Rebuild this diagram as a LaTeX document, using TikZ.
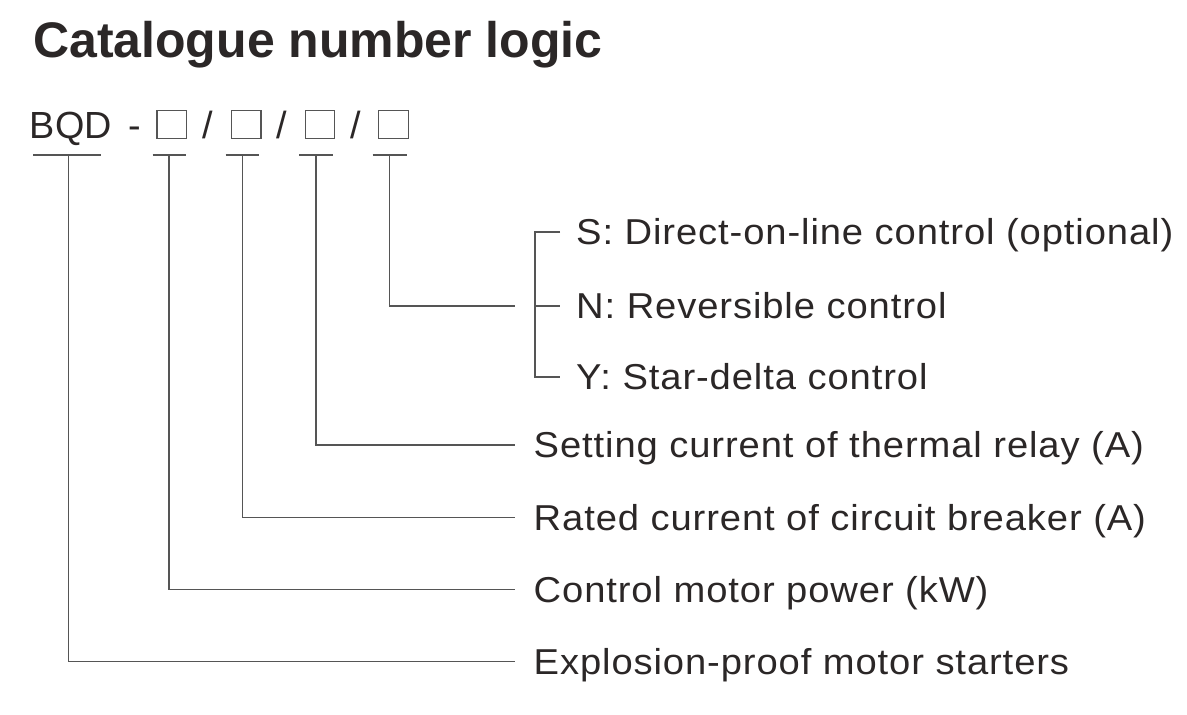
\documentclass[tikz,border=0pt]{standalone}
\usepackage{fontspec}
\setmainfont{Liberation Sans}
\newfontfamily\bodyf[FakeStretch=1.06,LetterSpace=2.5]{Liberation Sans}
\newfontfamily\titlef{Liberation Sans Bold}
\newfontfamily\codef{Liberation Sans}
\definecolor{txt}{HTML}{2B2727}
\definecolor{ln}{HTML}{555555}
\tikzset{
  body/.style={anchor=west, inner sep=0pt, text height=25.8pt, text depth=0pt,
    font=\bodyf\fontsize{36}{42}\selectfont, text=txt},
  code/.style={anchor=base west, inner sep=0pt, font=\codef\fontsize{37.8}{42}\selectfont, text=txt},
  slot/.style={draw=ln, line width=1.1pt, minimum width=29.5pt, minimum height=28pt, inner sep=0pt},
  conn/.style={draw=ln, line width=1.4pt},
}
\begin{document}
\begin{tikzpicture}[x=1pt,y=-1pt]
\useasboundingbox[fill=white] (0,0) rectangle (1187,715);
% title
\node[anchor=base west, inner sep=0pt, font=\titlef\fontsize{50}{55}\selectfont, text=txt] (title) at (33,57) {Catalogue number logic};
% code line
\node[code] (bqd) at (29.7,138) {BQD};
\node[code] (dash) at (128.3,138) {-};
\node[slot] (b1) at (171.7,124.5) {};
\node[code] (s1) at (202.5,138) {/};
\node[slot] (b2) at (246.2,124.5) {};
\node[code] (s2) at (276,138) {/};
\node[slot] (b3) at (320,124.5) {};
\node[code] (s3) at (350,138) {/};
\node[slot] (b4) at (393.3,124.5) {};
% underlines and tick points
\coordinate (k0) at (68.3,155);
\coordinate (k1) at (169,155);
\coordinate (k2) at (242.7,155);
\coordinate (k3) at (316,155);
\coordinate (k4) at (389.3,155);
\draw[conn] (33,155) -- (101,155);
\draw[conn] (152.7,155) -- (185.7,155);
\draw[conn] (225.7,155) -- (259.3,155);
\draw[conn] (299.3,155) -- (332.7,155);
\draw[conn] (372.7,155) -- (406.7,155);
% labels
\node[body] (tS) at (576,232) {S: Direct-on-line control (optional)};
\node[body] (tN) at (576,306) {N: Reversible control};
\node[body] (tY) at (576,377) {Y: Star-delta control};
\node[body] (tSet) at (533.5,445) {Setting current of thermal relay (A)};
\node[body] (tRat) at (533.5,517.2) {Rated current of circuit breaker (A)};
\node[body] (tCon) at (533.5,589.5) {Control motor power (kW)};
\node[body] (tExp) at (533.5,661.7) {Explosion-proof motor starters};
% bracket
\coordinate (brN) at (535,306);
\draw[conn] ([xshift=-16pt]tS.west) -- (535,232) -- (535,377) -- ([xshift=-16pt]tY.west);
\draw[conn] (brN) -- ([xshift=-16pt]tN.west);
% connectors
\draw[conn] (k4) |- ([xshift=-20pt]brN);
\draw[conn] (k3) |- ([xshift=-18.5pt]tSet.west);
\draw[conn] (k2) |- ([xshift=-18.5pt]tRat.west);
\draw[conn] (k1) |- ([xshift=-18.5pt]tCon.west);
\draw[conn] (k0) |- ([xshift=-18.5pt]tExp.west);
\end{tikzpicture}
\end{document}
